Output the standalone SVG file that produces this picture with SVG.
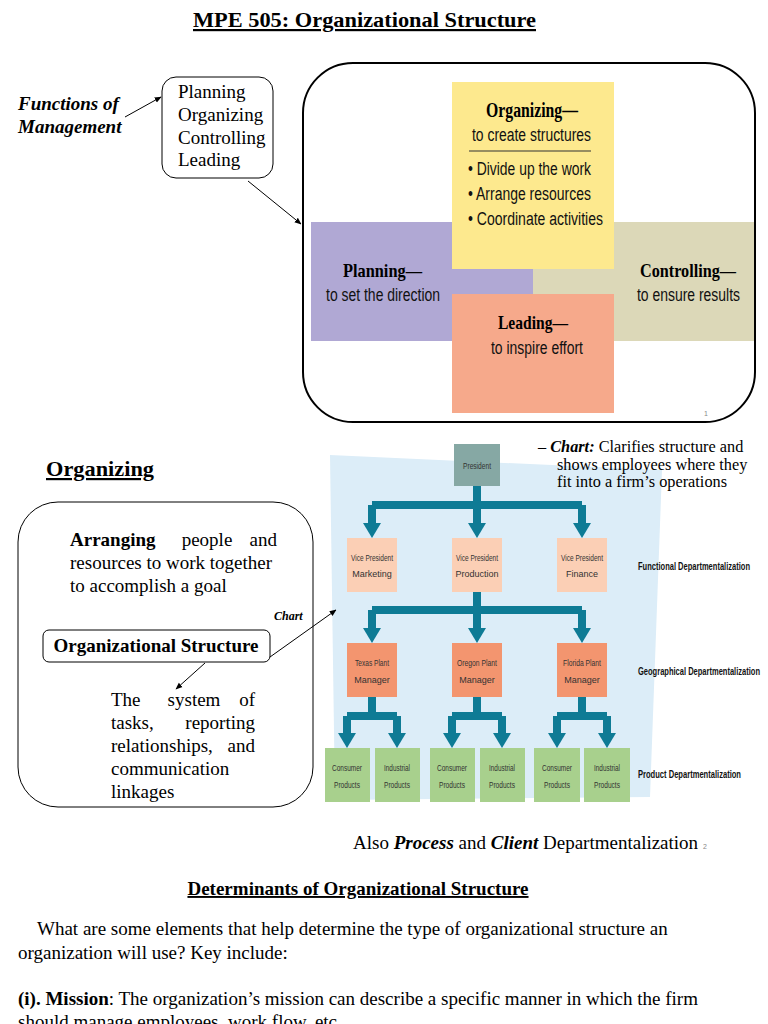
<svg xmlns="http://www.w3.org/2000/svg" width="768" height="1024" viewBox="0 0 768 1024">
<style>
.t{font-family:"Liberation Serif",serif;font-size:19px;fill:#000}
.c{font-family:"Liberation Sans",sans-serif;fill:#111;font-size:18px}
.s{font-family:"Liberation Sans",sans-serif;font-size:9px;fill:#333;text-anchor:middle}
.l{font-family:"Liberation Sans",sans-serif;font-size:10px;font-weight:bold;fill:#111}
.tl{stroke:#0e7b95;stroke-width:8;fill:none}
</style>
<defs>
<marker id="a" viewBox="0 0 10 10" refX="9" refY="5" markerWidth="7" markerHeight="7" orient="auto"><path d="M0,1L10,5L0,9z" fill="#000"/></marker>
</defs>
<rect width="768" height="1024" fill="#fff"/>
<text x="193" y="27" class="t" style="font-size:22px" font-weight="bold" textLength="343" lengthAdjust="spacingAndGlyphs" text-decoration="underline">MPE 505: Organizational Structure</text>
<g id="functions"><text x="18" y="110" class="t" font-weight="bold" font-style="italic">Functions of</text><text x="18" y="133" class="t" font-weight="bold" font-style="italic">Management</text></g>
<g id="fbox"><rect x="162" y="77" width="111" height="101" rx="14" fill="#fff" stroke="#000"/>
<text x="178" y="98" class="t">Planning</text><text x="178" y="121" class="t">Organizing</text><text x="178" y="144" class="t">Controlling</text><text x="178" y="166" class="t">Leading</text></g>
<g id="quad">
<rect x="303" y="63" width="452" height="359" rx="50" fill="#fff" stroke="#000" stroke-width="2"/>
<rect x="311" y="222" width="222" height="119" fill="#b0a8d4"/>
<rect x="533" y="222" width="221" height="119" fill="#dcd8b8"/>
<rect x="452" y="82" width="162" height="187" fill="#fde98e"/>
<rect x="452" y="294" width="162" height="119" fill="#f6a98b"/>
<text x="486" y="117" class="t" style="font-size:20px" font-weight="bold" textLength="92" lengthAdjust="spacingAndGlyphs">Organizing—</text>
<text x="472" y="141" class="c" textLength="119" lengthAdjust="spacingAndGlyphs">to create structures</text>
<line x1="469" y1="151" x2="591" y2="151" stroke="#333" stroke-width="1.2"/>
<text x="468" y="175" class="c" textLength="123" lengthAdjust="spacingAndGlyphs">• Divide up the work</text>
<text x="468" y="200" class="c" textLength="123" lengthAdjust="spacingAndGlyphs">• Arrange resources</text>
<text x="468" y="225" class="c" textLength="135" lengthAdjust="spacingAndGlyphs">• Coordinate activities</text>
<text x="343" y="277" class="t" font-weight="bold" textLength="79" lengthAdjust="spacingAndGlyphs">Planning—</text>
<text x="326" y="301" class="c" textLength="114" lengthAdjust="spacingAndGlyphs">to set the direction</text>
<text x="640" y="277" class="t" font-weight="bold" textLength="96" lengthAdjust="spacingAndGlyphs">Controlling—</text>
<text x="637" y="301" class="c" textLength="103" lengthAdjust="spacingAndGlyphs">to ensure results</text>
<text x="498" y="329" class="t" font-weight="bold" textLength="70" lengthAdjust="spacingAndGlyphs">Leading—</text>
<text x="491" y="354" class="c" textLength="92" lengthAdjust="spacingAndGlyphs">to inspire effort</text>
<text x="704" y="416" font-family="Liberation Sans,sans-serif" font-size="7" fill="#888">1</text>
</g>
<text x="46" y="476" class="t" style="font-size:22px" font-weight="bold" textLength="108" lengthAdjust="spacingAndGlyphs" text-decoration="underline">Organizing</text>
<g id="orgbox"><rect x="18" y="502" width="295" height="305" rx="40" fill="#fff" stroke="#000"/>
<text x="70" y="546" class="t" font-weight="bold">Arranging</text><text x="207" y="546" class="t" text-anchor="middle">people</text><text x="277" y="546" class="t" text-anchor="end">and</text>
<text x="70" y="569" class="t">resources to work together</text>
<text x="70" y="592" class="t">to accomplish a goal</text>
<text x="111" y="706" class="t">The</text><text x="194" y="706" class="t" text-anchor="middle">system</text><text x="255" y="706" class="t" text-anchor="end">of</text>
<text x="111" y="729" class="t">tasks,</text><text x="255" y="729" class="t" text-anchor="end">reporting</text>
<text x="111" y="752" class="t">relationships,</text><text x="255" y="752" class="t" text-anchor="end">and</text>
<text x="111" y="775" class="t">communication</text>
<text x="111" y="798" class="t">linkages</text></g>
<g id="osbox"><rect x="43" y="630" width="227" height="32" rx="6" fill="#fff" stroke="#000"/>
<text x="156" y="652" class="t" font-weight="bold" text-anchor="middle">Organizational Structure</text></g>
<text x="274" y="620" class="t" style="font-size:12px" font-weight="bold" font-style="italic">Chart</text>
<polygon points="330,455 662,470 650,797 335,800" fill="#dcedf8"/>
<text x="538" y="452" class="t" style="font-size:16.3px">–  <tspan font-weight="bold" font-style="italic">Chart:</tspan> Clarifies structure and</text>
<text x="557" y="470" class="t" style="font-size:16.3px">shows employees where they</text>
<text x="557" y="487" class="t" style="font-size:16.3px">fit into a firm’s operations</text>
<g id="connectors">
<line x1="125" y1="117" x2="161" y2="97" stroke="#000" marker-end="url(#a)"/>
<line x1="248" y1="181" x2="301" y2="224" stroke="#000" marker-end="url(#a)"/>
<line x1="270" y1="657" x2="336" y2="610" stroke="#000" marker-end="url(#a)"/>
<line x1="205" y1="663" x2="176" y2="689" stroke="#000" marker-end="url(#a)"/>
<path class="tl" d="M477,486V505M372,505H582M372,505V525M477,505V525M582,505V525"/>
<path class="tl" d="M477,592V610M372,610H582M372,610V630M477,610V630M582,610V630"/>
<path class="tl" d="M372,697V716M347,716H397M347,716V735M397,716V735"/>
<path class="tl" d="M477,697V716M452,716H502M452,716V735M502,716V735"/>
<path class="tl" d="M582,697V716M557,716H607M557,716V735M607,716V735"/>
<g fill="#0e7b95">
<path d="M363,523h18l-9,15z"/><path d="M468,523h18l-9,15z"/><path d="M573,523h18l-9,15z"/>
<path d="M363,628h18l-9,15z"/><path d="M468,628h18l-9,15z"/><path d="M573,628h18l-9,15z"/>
<path d="M338,733h18l-9,15z"/><path d="M388,733h18l-9,15z"/><path d="M443,733h18l-9,15z"/><path d="M493,733h18l-9,15z"/><path d="M548,733h18l-9,15z"/><path d="M598,733h18l-9,15z"/>
</g>
</g>
<g id="president"><rect x="454" y="444" width="46" height="42" fill="#86a8a4"/><text x="477" y="469" class="s" textLength="28" lengthAdjust="spacingAndGlyphs">President</text></g>
<g id="vpm"><rect x="347" y="538" width="50" height="54" fill="#fbcfb5"/><text x="372" y="561" class="s" textLength="42" lengthAdjust="spacingAndGlyphs">Vice President</text><text x="372" y="577" class="s">Marketing</text></g>
<g id="vpp"><rect x="452" y="538" width="50" height="54" fill="#fbcfb5"/><text x="477" y="561" class="s" textLength="42" lengthAdjust="spacingAndGlyphs">Vice President</text><text x="477" y="577" class="s">Production</text></g>
<g id="vpf"><rect x="557" y="538" width="50" height="54" fill="#fbcfb5"/><text x="582" y="561" class="s" textLength="42" lengthAdjust="spacingAndGlyphs">Vice President</text><text x="582" y="577" class="s">Finance</text></g>
<g id="tx"><rect x="347" y="643" width="50" height="54" fill="#f3956f"/><text x="372" y="666" class="s" textLength="34" lengthAdjust="spacingAndGlyphs">Texas Plant</text><text x="372" y="683" class="s">Manager</text></g>
<g id="or"><rect x="452" y="643" width="50" height="54" fill="#f3956f"/><text x="477" y="666" class="s" textLength="40" lengthAdjust="spacingAndGlyphs">Oregon Plant</text><text x="477" y="683" class="s">Manager</text></g>
<g id="fl"><rect x="557" y="643" width="50" height="54" fill="#f3956f"/><text x="582" y="666" class="s" textLength="38" lengthAdjust="spacingAndGlyphs">Florida Plant</text><text x="582" y="683" class="s">Manager</text></g>
<g id="p1"><rect x="325" y="748" width="45" height="54" fill="#a8d08d"/><text x="347" y="771" class="s" textLength="30" lengthAdjust="spacingAndGlyphs">Consumer</text><text x="347" y="788" class="s" textLength="26" lengthAdjust="spacingAndGlyphs">Products</text></g>
<g id="p2"><rect x="375" y="748" width="45" height="54" fill="#a8d08d"/><text x="397" y="771" class="s" textLength="26" lengthAdjust="spacingAndGlyphs">Industrial</text><text x="397" y="788" class="s" textLength="26" lengthAdjust="spacingAndGlyphs">Products</text></g>
<g id="p3"><rect x="430" y="748" width="45" height="54" fill="#a8d08d"/><text x="452" y="771" class="s" textLength="30" lengthAdjust="spacingAndGlyphs">Consumer</text><text x="452" y="788" class="s" textLength="26" lengthAdjust="spacingAndGlyphs">Products</text></g>
<g id="p4"><rect x="480" y="748" width="45" height="54" fill="#a8d08d"/><text x="502" y="771" class="s" textLength="26" lengthAdjust="spacingAndGlyphs">Industrial</text><text x="502" y="788" class="s" textLength="26" lengthAdjust="spacingAndGlyphs">Products</text></g>
<g id="p5"><rect x="534" y="748" width="46" height="54" fill="#a8d08d"/><text x="557" y="771" class="s" textLength="30" lengthAdjust="spacingAndGlyphs">Consumer</text><text x="557" y="788" class="s" textLength="26" lengthAdjust="spacingAndGlyphs">Products</text></g>
<g id="p6"><rect x="584" y="748" width="46" height="54" fill="#a8d08d"/><text x="607" y="771" class="s" textLength="26" lengthAdjust="spacingAndGlyphs">Industrial</text><text x="607" y="788" class="s" textLength="26" lengthAdjust="spacingAndGlyphs">Products</text></g>
<text x="638" y="570" class="l" textLength="112" lengthAdjust="spacingAndGlyphs">Functional Departmentalization</text>
<text x="638" y="675" class="l" textLength="122" lengthAdjust="spacingAndGlyphs">Geographical Departmentalization</text>
<text x="638" y="778" class="l" textLength="103" lengthAdjust="spacingAndGlyphs">Product Departmentalization</text>
<text x="353" y="849" class="t">Also <tspan font-weight="bold" font-style="italic">Process</tspan> and <tspan font-weight="bold" font-style="italic">Client</tspan> Departmentalization</text>
<text x="703" y="849" font-family="Liberation Sans,sans-serif" font-size="7" fill="#888">2</text>
<text x="358" y="895" class="t" font-weight="bold" text-anchor="middle" text-decoration="underline">Determinants of Organizational Structure</text>
<text x="37" y="935" class="t">What are some elements that help determine the type of organizational structure an</text>
<text x="18" y="959" class="t">organization will use? Key include:</text>
<text x="18" y="1005" class="t"><tspan font-weight="bold">(i). Mission</tspan>: The organization’s mission can describe a specific manner in which the firm</text>
<text x="18" y="1028" class="t">should manage employees, work flow, etc.</text>
</svg>
